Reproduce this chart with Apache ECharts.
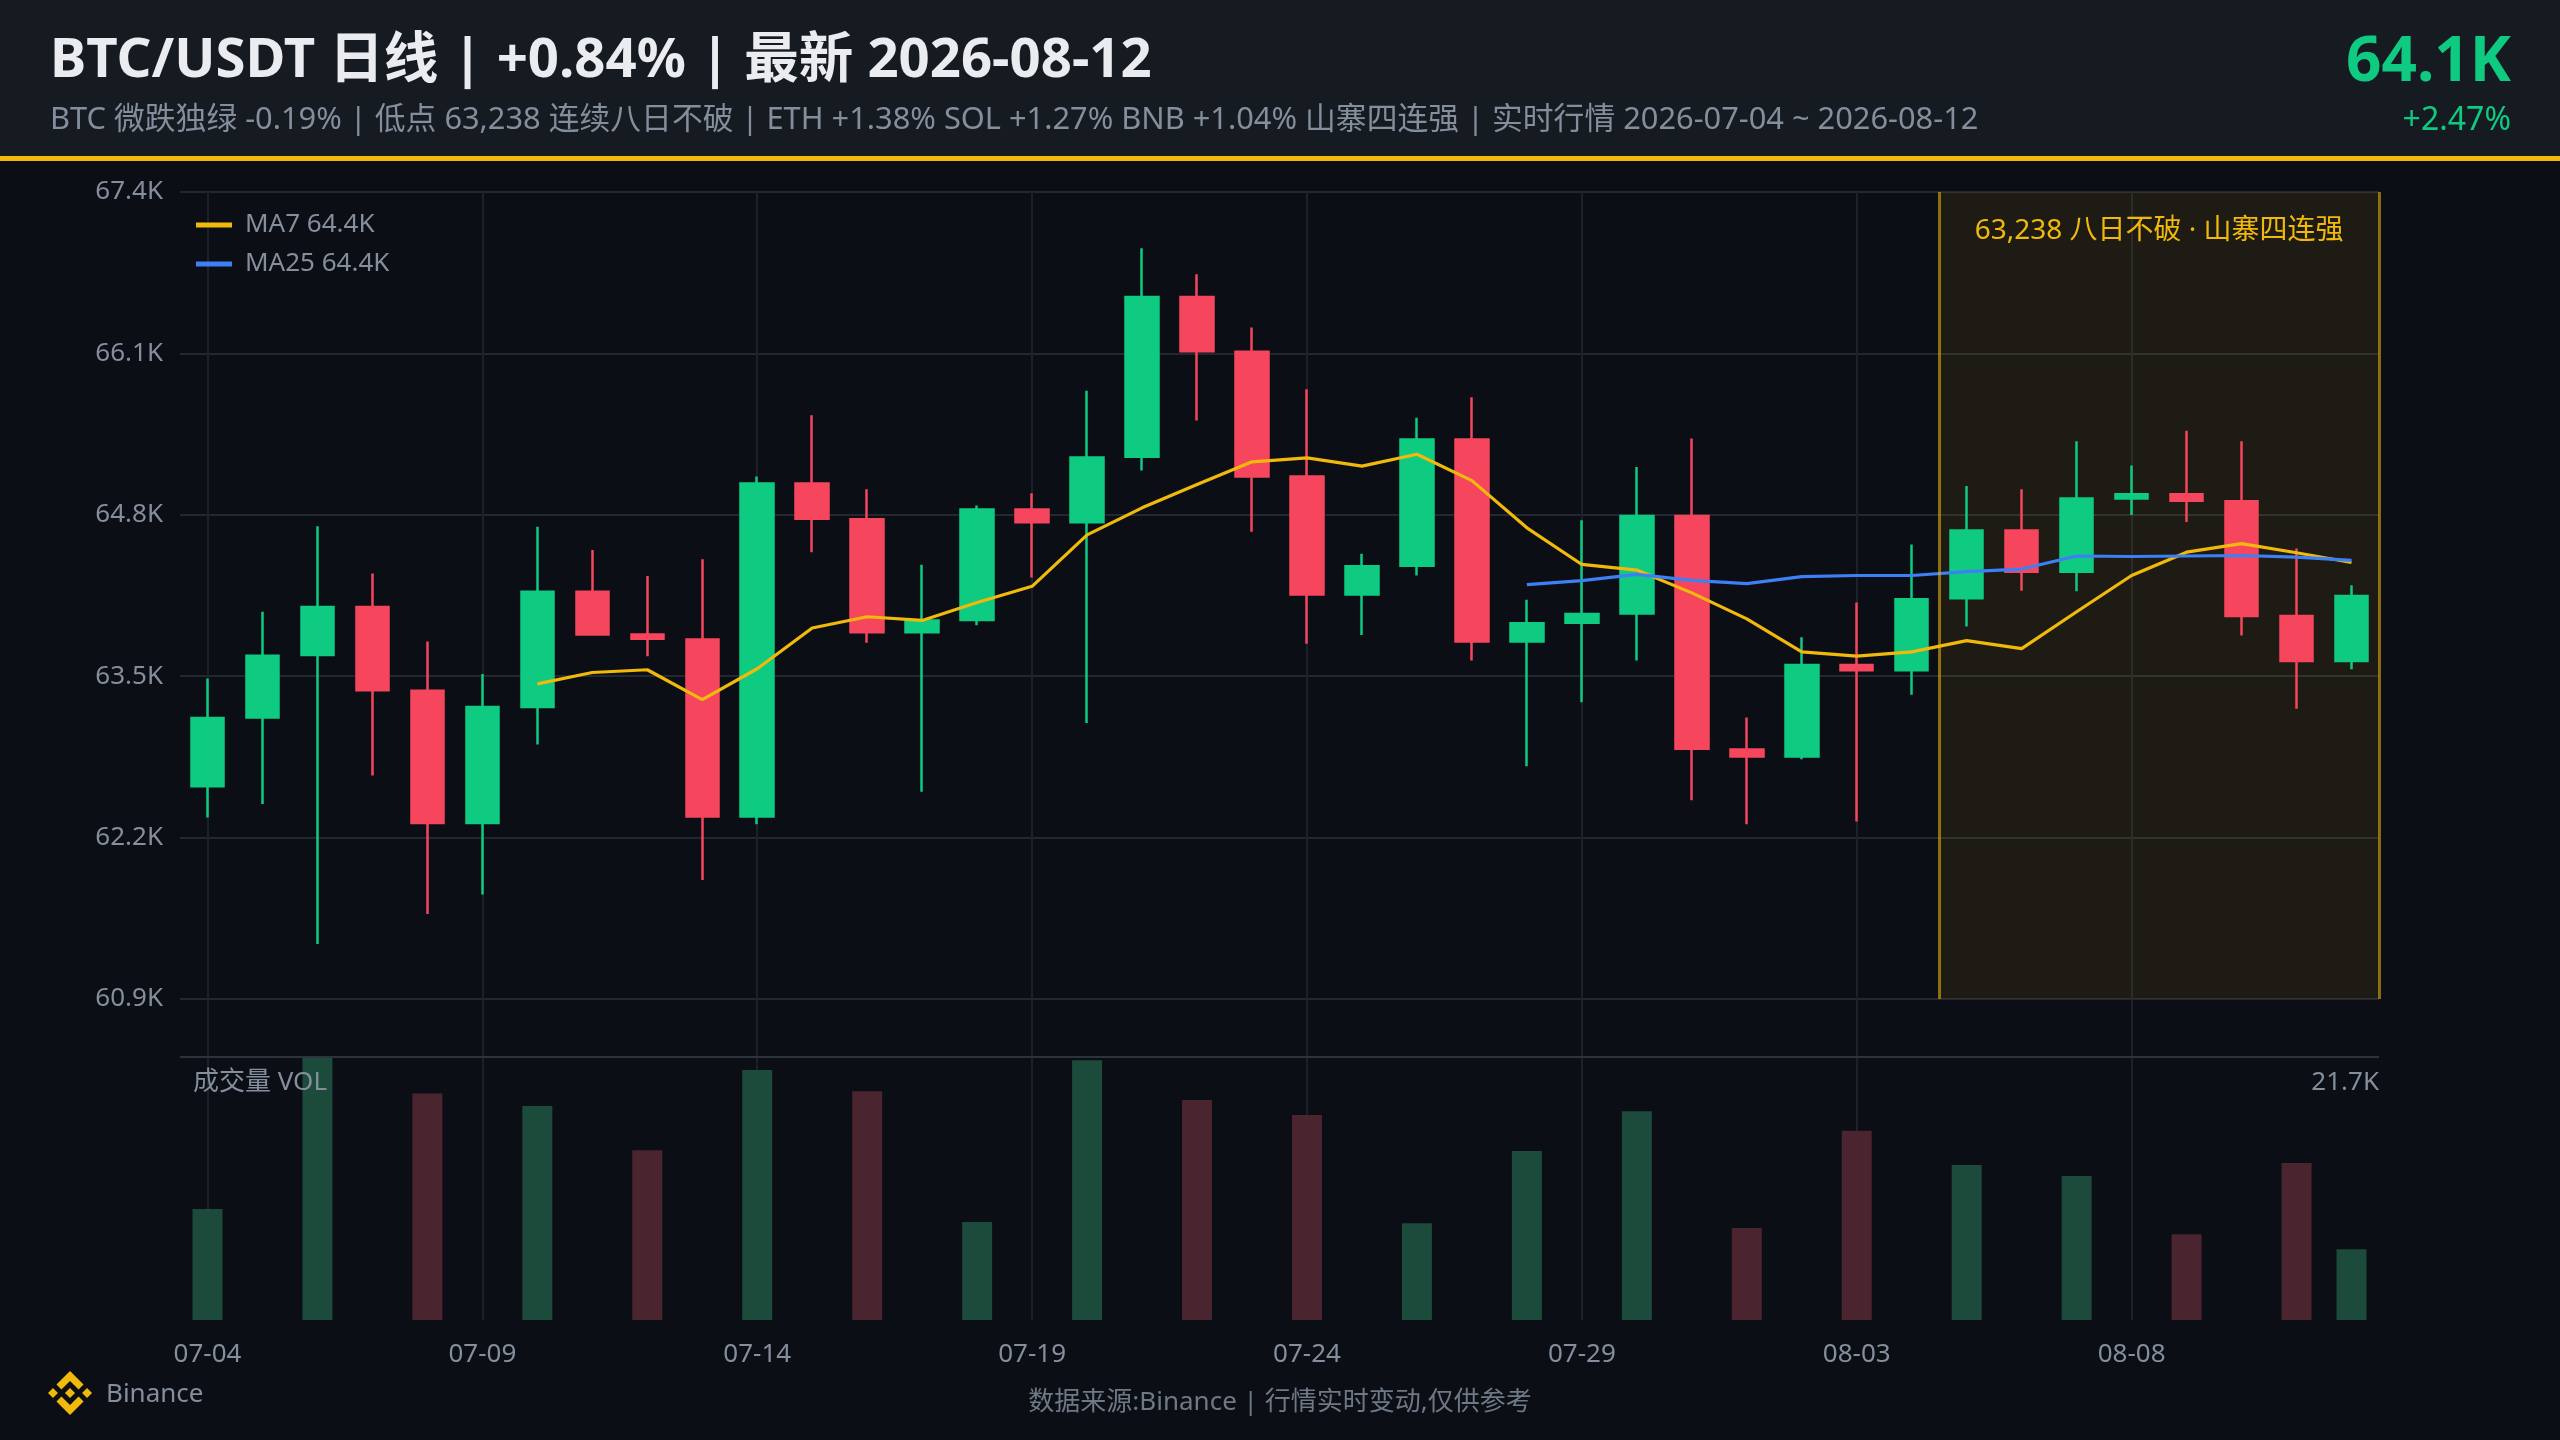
<!DOCTYPE html>
<html>
<head>
<meta charset="utf-8">
<title>BTC/USDT 日线</title>
<script src="https://cdn.jsdelivr.net/npm/echarts@6/dist/echarts.min.js"></script>
<style>
  html, body { margin: 0; padding: 0; background: #0b0e14; }
  #chart { width: 2560px; height: 1440px; }
</style>
</head>
<body>
<div id="chart"></div>
<script>
// --- data ---
var dates = ['07-04', '07-05', '07-06', '07-07', '07-08', '07-09', '07-10', '07-11', '07-12', '07-13',
             '07-14', '07-15', '07-16', '07-17', '07-18', '07-19', '07-20', '07-21', '07-22', '07-23',
             '07-24', '07-25', '07-26', '07-27', '07-28', '07-29', '07-30', '07-31', '08-01', '08-02',
             '08-03', '08-04', '08-05', '08-06', '08-07', '08-08', '08-09', '08-10', '08-11', '08-12'];

var open  = [62614, 63168, 63670, 64058, 63382, 62317, 63251, 64180, 63835, 63796,
             62370, 65053, 64765, 63853, 63953, 64843, 64739, 65267, 66554, 66113,
             65109, 64158, 64390, 65406, 63779, 63931, 64006, 64791, 62910, 62854,
             63591, 63547, 64128, 64673, 64342, 64931, 64965, 64909, 63984, 63622];
var close = [63164, 63665, 64058, 63386, 62317, 63251, 64180, 63835, 63801, 62370,
             65053, 64769, 63853, 63949, 64843, 64739, 65262, 66554, 66117, 65109,
             64158, 64385, 65406, 63779, 63927, 64001, 64791, 62915, 62854, 63591,
             63547, 64119, 64673, 64342, 64931, 64965, 64913, 63984, 63622, 64145];
var low   = [62361, 62470, 61344, 62701, 61584, 61742, 62950, 63830, 63661, 61859,
             62308, 64499, 63770, 62570, 63910, 64294, 63124, 65157, 65559, 64664,
             63761, 63831, 64311, 63626, 62775, 63290, 63626, 62500, 62308, 62832,
             62330, 63351, 63901, 64189, 64185, 64799, 64743, 63827, 63238, 63556];
var high  = [63482, 64019, 64708, 64328, 63779, 63517, 64704, 64516, 64307, 64442,
             65109, 65602, 65005, 64398, 64874, 64974, 65799, 66946, 66737, 66309,
             65812, 64486, 65581, 65746, 64115, 64756, 65184, 65415, 63168, 63814,
             64093, 64560, 65031, 65005, 65393, 65197, 65476, 65393, 64529, 64233];

var volume = [9160, '-', 21700, '-', 18700, '-', 17660, '-', 14000, '-',
              20630, '-', 18870, '-', 8090, '-', 21430, '-', 18150, '-',
              16910, '-', 7980, '-', 13940, '-', 17220, '-', 7590, '-',
              15620, '-', 12790, '-', 11880, '-', 7070, '-', 12950, 5830];

var ma7  = ['-', '-', '-', '-', '-', '-', 63438, 63530, 63552, 63312,
            63560, 63888, 63979, 63949, 64093, 64224, 64638, 64856, 65044, 65227,
            65258, 65192, 65288, 65075, 64695, 64400, 64355, 64171, 63962, 63696,
            63661, 63696, 63787, 63722, 64019, 64311, 64499, 64568, 64494, 64416];
var ma25 = ['-', '-', '-', '-', '-', '-', '-', '-', '-', '-',
            '-', '-', '-', '-', '-', '-', '-', '-', '-', '-',
            '-', '-', '-', '-', 64237, 64270, 64320, 64272, 64246, 64302,
            64311, 64311, 64342, 64363, 64468, 64464, 64468, 64472, 64459, 64433];

var zoneStart = '08-05';
var zoneEnd = '08-12';
var zoneLabel = '63,238 八日不破 · 山寨四连强';

var titleText = 'BTC/USDT 日线 | +0.84% | 最新 2026-08-12';
var subText = 'BTC 微跌独绿 -0.19% | 低点 63,238 连续八日不破 | ETH +1.38% SOL +1.27% BNB +1.04% 山寨四连强 | 实时行情 2026-07-04 ~ 2026-08-12';
var lastText = '64.1K';
var changeText = '+2.47%';
var footText = '数据来源:Binance | 行情实时变动,仅供参考';

// --- colours ---
var UP = '#0ecb81', DOWN = '#f6465d', GOLD = '#f0b90b', BLUE = '#3d7ff5';
var MUTED = '#848e9c', GRIDC = '#232830', VGRID = '#1c2129';
var FONT = '"Noto Sans", "Noto Sans CJK SC", sans-serif';

function fmtK(v) { return (v / 1000).toFixed(1) + 'K'; }

var kData = dates.map(function(d, i) { return [open[i], close[i], low[i], high[i]]; });
var volData = volume.map(function(v, i) {
  if (v === '-') return '-';
  return { value: v, itemStyle: { color: close[i] >= open[i] ? '#1c4b3c' : '#4a242e' } };
});

// zone edges on the hidden value axis (band edges of the category slots)
var zoneFrom = dates.indexOf(zoneStart) - 0.5;
var zoneTo = dates.indexOf(zoneEnd) + 0.5;

// Binance mark, drawn in its own 126.6 unit box
var logoShapes = [
  [[38.73, 53.2], [63.32, 28.62], [87.92, 53.22], [102.22, 38.91], [63.32, 0], [24.42, 38.9]],
  [[0, 63.31], [14.3, 49], [28.61, 63.31], [14.3, 77.61]],
  [[38.73, 73.42], [63.32, 98.01], [87.92, 73.41], [102.23, 87.7], [63.33, 126.61], [24.42, 87.73]],
  [[98.01, 63.32], [112.31, 49.01], [126.61, 63.31], [112.31, 77.63]],
  [[77.83, 63.3], [63.32, 48.78], [48.81, 63.29], [63.32, 77.82]]
];
var logoScale = 44 / 126.61;

var chart = echarts.init(document.getElementById('chart'), null, { renderer: 'canvas' });

chart.setOption({
  animation: false,
  backgroundColor: '#0b0e14',
  textStyle: { fontFamily: FONT },
  graphic: [
    { type: 'rect', shape: { x: 0, y: 0, width: 2560, height: 156 }, style: { fill: '#161a21' }, z: -1 },
    { type: 'rect', shape: { x: 0, y: 156, width: 2560, height: 5 }, style: { fill: GOLD }, z: -1 },
    { type: 'text', x: 50, y: 61, style: { text: titleText, fill: '#eaecef', fontSize: 54.5, fontWeight: 'bold', fontFamily: FONT, textVerticalAlign: 'middle' } },
    { type: 'text', x: 50, y: 120, style: { text: subText, fill: MUTED, fontSize: 30.8, fontFamily: FONT, textVerticalAlign: 'middle' } },
    { type: 'text', x: 2511, y: 63, style: { text: lastText, fill: UP, fontSize: 62, fontWeight: 'bold', fontFamily: FONT, textAlign: 'right', textVerticalAlign: 'middle' } },
    { type: 'text', x: 2511, y: 121, style: { text: changeText, fill: UP, fontSize: 32, fontFamily: FONT, textAlign: 'right', textVerticalAlign: 'middle' } },
    {
      type: 'group', x: 48, y: 1371, scaleX: logoScale, scaleY: logoScale,
      children: logoShapes.map(function(pts) {
        return { type: 'polygon', shape: { points: pts }, style: { fill: GOLD } };
      })
    },
    { type: 'text', x: 106, y: 1395, style: { text: 'Binance', fill: MUTED, fontSize: 26, fontFamily: FONT, textVerticalAlign: 'middle' } },
    { type: 'text', x: 1280, y: 1403, style: { text: footText, fill: '#6f7886', fontSize: 26, fontFamily: FONT, textAlign: 'center', textVerticalAlign: 'middle' } }
  ],
  legend: {
    data: ['MA7', 'MA25'],
    orient: 'vertical',
    left: 196,
    top: 212,
    padding: 0,
    icon: 'rect',
    itemWidth: 36,
    itemHeight: 5,
    itemGap: 13,
    selectedMode: false,
    textStyle: { color: MUTED, fontSize: 26, fontFamily: FONT, padding: [0, 0, 0, 8] },
    formatter: function(name) {
      var arr = name === 'MA7' ? ma7 : ma25;
      return name + ' ' + fmtK(arr[arr.length - 1]);
    }
  },
  grid: [
    { left: 180, right: 181, top: 192, height: 807 },
    { left: 180, right: 181, top: 1000, height: 320 }
  ],
  xAxis: [
    {
      type: 'category', gridIndex: 0, data: dates, boundaryGap: true,
      axisLine: { show: false }, axisTick: { show: false }, axisLabel: { show: false },
      splitLine: { show: true, interval: 4, alignWithLabel: true, lineStyle: { color: VGRID, width: 2 } }
    },
    {
      type: 'category', gridIndex: 1, data: dates, boundaryGap: true,
      axisLine: { show: false }, axisTick: { show: false },
      axisLabel: { interval: 4, margin: 22, color: MUTED, fontSize: 26, fontFamily: FONT },
      splitLine: { show: true, interval: 4, alignWithLabel: true, lineStyle: { color: VGRID, width: 2 } }
    },
    { type: 'value', gridIndex: 0, min: -0.5, max: dates.length - 0.5, show: false }
  ],
  yAxis: [
    {
      type: 'value', gridIndex: 0, min: 60900, max: 67400, interval: 1300,
      axisLine: { show: false }, axisTick: { show: false },
      axisLabel: { margin: 17, color: MUTED, fontSize: 26, fontFamily: FONT, formatter: fmtK },
      splitLine: { lineStyle: { color: GRIDC, width: 2 } }
    },
    {
      type: 'value', gridIndex: 1, min: 0,
      max: function(v) { return v.max * 1.217; },
      show: false
    }
  ],
  series: [
    {
      name: 'K', type: 'candlestick', xAxisIndex: 0, yAxisIndex: 0,
      data: kData, barWidth: 33,
      itemStyle: { color: UP, color0: DOWN, borderColor: UP, borderColor0: DOWN, borderWidth: 2.5 }
    },
    {
      name: 'MA7', type: 'line', xAxisIndex: 0, yAxisIndex: 0, data: ma7,
      symbol: 'none', lineStyle: { color: GOLD, width: 3.2 }, itemStyle: { color: GOLD }, z: 3
    },
    {
      name: 'MA25', type: 'line', xAxisIndex: 0, yAxisIndex: 0, data: ma25,
      symbol: 'none', lineStyle: { color: BLUE, width: 3.2 }, itemStyle: { color: BLUE }, z: 3
    },
    {
      name: 'zone', type: 'line', xAxisIndex: 2, yAxisIndex: 0, data: [],
      markArea: {
        silent: true,
        itemStyle: { color: 'rgba(240,185,11,0.08)' },
        label: { show: true, position: 'insideTop', distance: 25, color: GOLD, fontSize: 28, fontFamily: FONT },
        data: [[
          { name: zoneLabel, xAxis: zoneFrom },
          { xAxis: zoneTo }
        ]]
      },
      markLine: {
        silent: true,
        symbol: 'none',
        label: { show: false },
        lineStyle: { color: 'rgba(240,185,11,0.55)', width: 3, type: 'solid' },
        data: [{ xAxis: zoneFrom }, { xAxis: zoneTo }]
      }
    },
    {
      name: 'VOL', type: 'bar', xAxisIndex: 1, yAxisIndex: 1, data: volData, barWidth: 30,
      markLine: {
        silent: true,
        symbol: 'none',
        lineStyle: { color: '#2d333d', width: 2, type: 'solid' },
        data: [
          { type: 'max', label: { position: 'insideEndBottom', distance: [0, 13], color: MUTED, fontSize: 26, fontFamily: FONT, formatter: function(p) { return fmtK(p.value); } } },
          { type: 'max', label: { position: 'insideStartBottom', distance: [13, 13], color: MUTED, fontSize: 26, fontFamily: FONT, formatter: '成交量 VOL' } }
        ]
      }
    }
  ]
});

window.addEventListener('resize', function() { chart.resize(); });
</script>
</body>
</html>
